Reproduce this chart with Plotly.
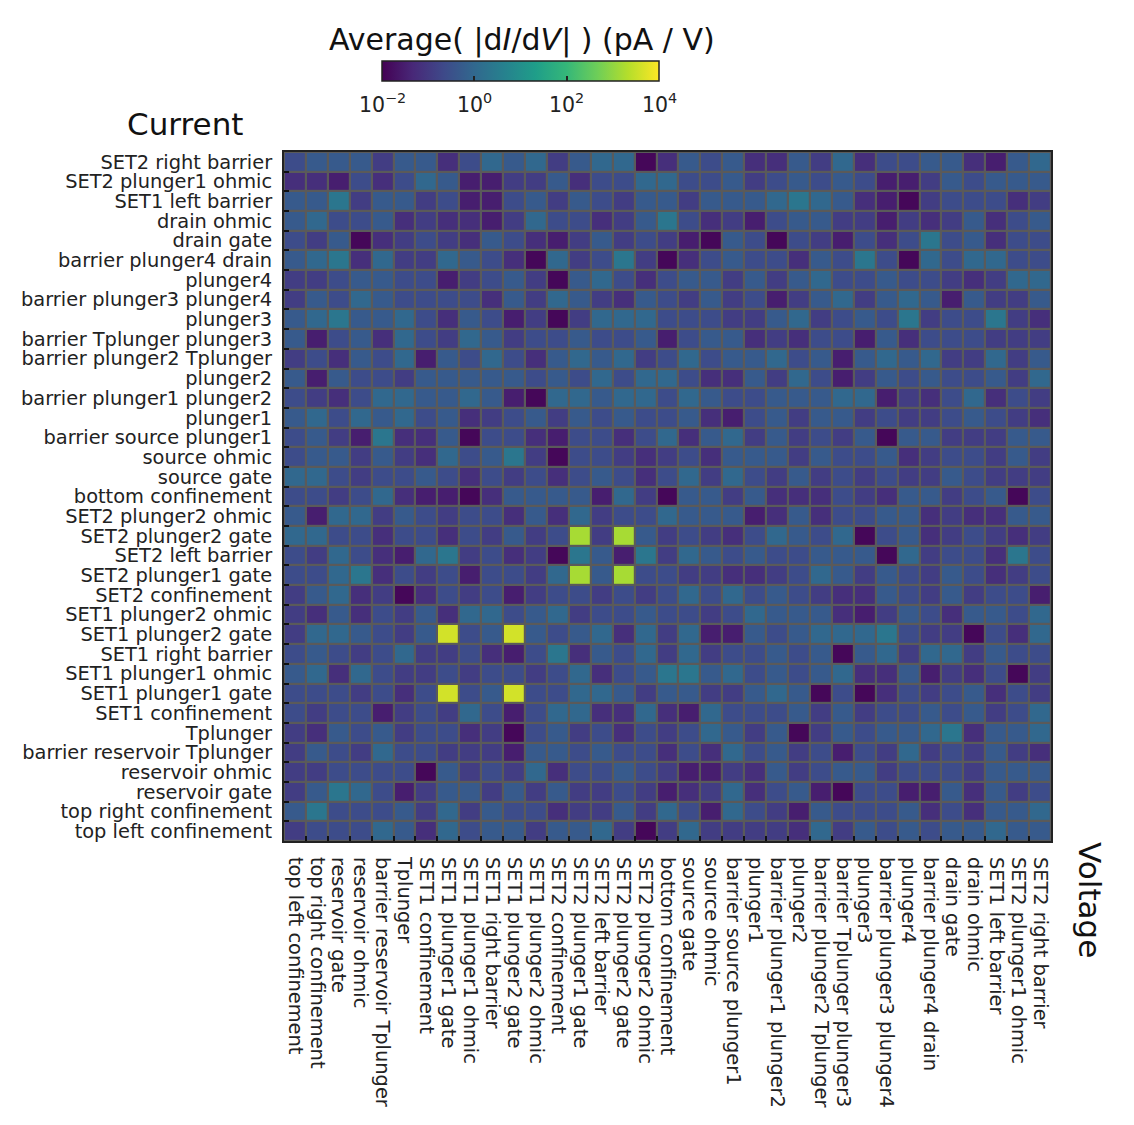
import plotly.graph_objects as go

voltage_gates = ["top left confinement", "top right confinement", "reservoir gate", "reservoir ohmic",
    "barrier reservoir Tplunger", "Tplunger", "SET1 confinement", "SET1 plunger1 gate", "SET1 plunger1 ohmic",
    "SET1 right barrier", "SET1 plunger2 gate", "SET1 plunger2 ohmic", "SET2 confinement", "SET2 plunger1 gate",
    "SET2 left barrier", "SET2 plunger2 gate", "SET2 plunger2 ohmic", "bottom confinement", "source gate",
    "source ohmic", "barrier source plunger1", "plunger1", "barrier plunger1 plunger2", "plunger2",
    "barrier plunger2 Tplunger", "barrier Tplunger plunger3", "plunger3", "barrier plunger3 plunger4", "plunger4",
    "barrier plunger4 drain", "drain gate", "drain ohmic", "SET1 left barrier", "SET2 plunger1 ohmic",
    "SET2 right barrier"]
current_gates = voltage_gates[::-1]

colorbar_ticks = [-2, 0, 2, 4]
colorbar_labels = ["10<sup>−2</sup>", "10<sup>0</sup>", "10<sup>2</sup>", "10<sup>4</sup>"]

# log10 of the average |dI/dV| in pA/V; rows run top to bottom of the picture
log10_didv = [
[-.6,-.3,-.3,-.3,-.9,-.3,-.3,-1.2,-.6,0,-.3,0,-.9,-.3,0,0,-1.9,-1.2,-.3,-.6,-.3,-1.2,-1.2,-.3,-.9,0,-1.2,-.6,-.6,-.3,-.3,-1.2,-1.5,-.3,0],
[-1.2,-1.2,-1.5,-.6,-1.2,-.6,0,-.3,-1.5,-1.5,-.9,-.9,-.3,-1.2,-.6,-.6,0,0,-.6,-.6,-.3,-.9,-.6,-.3,-.6,-.3,-.6,-1.5,-1.5,-.9,-.3,-.6,-.3,-.3,-.3],
[-.3,-.3,.35,-.9,-.3,-.3,-.9,-.6,-1.5,-1.5,-.6,-.3,-.9,-.3,-.6,-.9,-.3,-.3,-.9,-.3,-.3,-.3,0,.35,0,-.3,-1.2,-1.5,-1.9,-.9,-.6,-.6,-.6,-1.2,-.9],
[-.3,0,-.6,-.6,-.3,-1.2,-.9,-1.2,-1.2,-1.5,-.9,0,-.6,-.6,-1.2,-.9,-.3,.35,-.6,-1.2,-.9,-1.5,-.6,-.3,-.3,-.9,-.9,-1.5,-.9,-1.2,-.9,-.3,-1.2,-.6,-.3],
[-.6,-.9,-.3,-1.9,-1.2,-.9,-.6,-.9,-1.2,-.3,-.6,-1.2,-1.5,-.9,-.3,-.9,-.6,-.9,-1.5,-1.9,-.3,-.6,-1.9,-.6,-.9,-1.5,-.6,-1.2,-.6,.35,-.6,-.3,-1.2,-.6,-.6],
[-.3,0,.35,-1.2,0,-.9,-.9,0,-.3,-.6,-1.2,-1.9,0,-.9,-.6,.35,-.9,-1.9,-1.2,-.6,-.3,-.6,-.6,-1.2,-.3,-.6,.35,-.6,-1.9,0,-.6,0,0,-.6,-.6],
[-.9,-.9,-.6,-.3,-.3,-.6,-.6,-1.5,-.9,-.6,-.3,-.9,-1.9,-.3,0,-.6,-1.2,-.6,-.3,-.3,-.9,-.3,-.9,-.3,0,-.6,-.6,-.3,-.6,-.6,-.9,-1.2,-.9,0,0],
[-.9,-.3,-.6,0,-.3,-.6,-.6,-.6,-.6,-1.2,-.3,-.9,0,-.3,-.9,-1.2,-.3,-.6,-.9,-.3,-.9,-.6,-1.5,-.9,-.3,0,-.9,-.3,0,-.3,-1.5,-.3,-.9,-.9,-.3],
[-.3,0,.35,-.3,-.3,0,-.6,-1.2,-.3,-.6,-1.5,-.9,-1.9,-.9,0,0,0,-.6,-.6,-.6,-.9,-.9,-.3,0,-.9,-.6,-.3,-.6,.35,-.9,-.6,-.6,.35,-.9,-1.2],
[-.3,-1.5,-.6,-.3,-1.2,0,-.6,-.9,0,-.3,-.9,-.6,-.6,-.3,-.6,-.6,-.3,-1.5,-.6,-.3,-.3,-1.2,-.9,-1.2,-.6,-.6,-1.5,-.3,-1.2,-.6,-.6,-.6,-.9,-.9,-.9],
[-.9,-.6,-1.2,-.3,-.6,0,-1.5,-.3,-.6,0,-.6,-1.2,-.3,0,-.3,0,-.9,-.6,0,-.6,-.3,-.3,0,-.6,-.3,-1.5,-.3,0,-.3,0,-.9,-.9,0,-.9,-.3],
[-.3,-1.5,-.3,-.6,-.6,-.9,-.3,-.3,-.3,-.3,-.3,-.6,-.3,-.6,0,-.6,0,0,-.6,-1.2,-1.2,-.3,-.9,0,-.6,-1.5,-.9,-.3,-.6,-.3,-.6,-.6,-.3,-.9,0],
[-.6,-.9,-1.2,-.6,0,0,-.3,-.3,0,-.3,-1.5,-1.9,0,0,-.3,0,0,-.6,0,-.3,-.6,-.6,-.3,-.3,-.3,0,0,-1.5,-.9,-1.2,-.6,0,-1.2,-.6,-.9],
[-.3,0,-.6,0,-.3,0,-.6,-.3,-1.2,-.9,-.6,-.3,-.9,-.3,-.6,-.3,-.6,-.6,-.3,-1.2,-1.5,-.6,-.3,-.9,-.3,-.3,-.9,-.6,-.9,-.9,-.6,-.3,-.6,-.9,-1.2],
[-.6,-.3,-.9,-1.5,.35,-1.2,-1.2,-.3,-1.9,-.6,-.6,-1.2,-1.5,-.6,-.6,-1.2,-.6,0,-1.2,-.3,0,-.9,-.3,-.9,-.6,-.9,-.3,-1.9,-.3,-.3,-.9,-.9,-.9,-.3,-.3],
[-.6,-.3,-.3,-.9,-.3,-.9,-1.2,0,-.6,-.3,.35,-.9,-1.9,-.6,-.6,-.9,-1.2,-.9,-.6,-1.2,-.3,-.3,-.3,-.9,-.3,-.6,-.6,-.3,-1.2,-.9,-.6,-.6,-.9,-.3,-.9],
[0,0,-.6,-.9,-.6,-.6,-.3,-.6,-1.2,-.6,-.9,-.6,-1.2,-.6,-.3,-.6,-1.2,-.6,0,-.9,0,-.6,-.9,-.3,-.9,-.6,-.9,-.6,-.9,-.9,-.3,-.6,-.9,-.9,-.9],
[-.6,-.6,-.9,-.6,0,-1.2,-1.5,-1.5,-1.9,-1.2,-.3,-.3,-.3,-.3,-1.5,0,-.9,-1.9,-.3,-.3,-.9,-.3,-1.2,-1.2,-1.2,-.6,-.9,-1.2,-.3,-.3,-.9,-.6,-.3,-1.9,-.6],
[-.3,-1.5,0,0,-.9,-.3,-.6,-.9,-.6,-.6,-1.2,-.3,-1.2,0,-.9,-.6,-.6,0,-.3,-.3,-.3,-1.5,-1.2,-.3,-1.2,-.6,-.6,-.3,-.3,-1.2,-.9,-1.2,-1.2,-.3,-.3],
[0,0,-.6,-.6,-1.2,-.6,-.6,-1.2,-.6,-.9,-.3,-.9,-.6,3.2,-.9,3.2,-.3,-.9,-.6,-.9,-1.2,-.6,0,-.3,-.6,0,-1.9,-.6,-.3,-1.2,-.9,-.6,-.9,-1.2,-.9],
[-.6,-.9,0,-.6,-1.2,-1.5,0,.35,-.9,-.6,-1.2,-.9,-1.9,.35,-.3,-1.5,.35,-.9,0,-.3,-.6,-.3,-.6,-.6,-.3,-.3,-.3,-1.9,0,-.9,-.6,-.6,-1.2,.35,-.6],
[-.6,-.6,0,.35,-1.2,-.6,-.9,-.6,-1.5,-.6,-.6,-.9,0,3.2,-.3,3.2,-.6,-.6,-.9,-.9,-1.2,-1.2,-.9,-.6,0,-.3,-.9,-.3,-.6,-.9,-.3,-.6,-1.2,-.9,-.6],
[-.9,-.3,0,-1.2,-.9,-1.9,-1.2,-.6,-.9,-.6,-1.5,-.9,-.6,-.6,-.9,-.6,-.9,-.6,0,-.6,0,-.6,-.3,-.6,-.9,-1.2,-1.2,-.3,-.6,-.9,-.3,-.9,-.6,-.6,-1.5],
[-.9,-1.2,-.3,-1.2,-.6,-.9,-.3,-1.2,0,0,-.6,-.3,0,-.9,-.6,-.6,-.3,-.6,-.6,-.9,-.6,0,-.3,-.3,-.3,-1.2,-1.5,-.9,-.3,-.6,-1.2,-.3,-.3,-.6,0],
[-.9,0,0,-.3,-.6,-.9,-.3,3.6,-.6,-.3,3.6,-.3,-.6,-.3,0,-1.2,0,-.9,0,-1.5,-1.5,-.3,-.6,-.3,0,0,0,.35,-.6,-.9,-.9,-1.9,-.6,-1.2,0],
[-.6,-.3,-.6,-.9,-.6,0,-.9,-.9,-.6,-1.2,-1.5,-.6,.35,-1.2,-.3,-.6,0,-.9,0,-.9,-.6,-.6,-.3,-.6,-.3,-1.9,-.3,0,-.9,0,0,-.9,-.3,-.6,-.6],
[-.3,0,-1.2,0,-.6,-.9,-.9,-.6,-.9,-.6,-.6,-.9,-.6,0,-1.2,-.6,-.3,.35,.35,-.3,0,-.6,-.3,-.6,-.3,0,-1.2,-1.2,-.3,-1.5,-.9,-1.2,-.6,-1.9,-.9],
[-.6,-.6,-.6,-.9,-.6,-1.2,-.6,3.6,-.6,-.3,3.6,-.6,-.6,0,0,-.3,-.9,-.3,-.3,-.9,-.9,-.3,0,-.3,-1.9,-.6,-1.9,-1.2,-.6,-.9,-.6,-.3,-1.2,-.6,-.9],
[-.6,-.9,-.6,-.6,-1.5,-.9,-.6,-.9,0,-.6,-1.5,-.6,0,0,-1.2,-1.2,0,-1.2,-1.5,0,-.6,-.6,-.6,-.3,-.9,-.3,-.9,-.6,-.6,-.3,-.6,-.3,-.9,-.6,0],
[-.9,-1.2,-.3,-.6,-.3,-.9,-.6,-.6,-1.2,-.9,-1.9,-.6,-.3,-.9,-.6,-1.2,-.6,-.9,-.6,0,-.3,-.9,-.3,-1.9,-.9,-.3,-.6,-.3,-.3,0,.35,-1.2,-.3,-.3,0],
[-.9,-.3,-.6,-.9,0,-.6,-.6,-.9,-.9,-.9,-1.5,-.3,-.3,-.6,-.3,-.6,-.6,-1.2,-.6,-1.2,0,-.6,-.3,-.9,-.6,-1.5,-.6,-.9,0,-.9,-.6,-.9,-.3,-.9,-1.2],
[-.9,-.9,-.6,-.6,-.6,-.6,-1.9,-.3,-.9,-.6,-.9,0,-1.2,-.6,-.6,-.3,-.6,-.9,-1.5,-1.5,-.9,-1.2,-.3,-.9,-.6,-.3,-.3,-.9,-.6,-.6,-.6,-.9,-.3,-.3,-.3],
[-.9,-.3,.35,0,-.6,-1.5,-.9,-.3,-.3,-.9,-.3,-.9,-.3,-.9,-.9,-.6,-.9,-1.5,-1.2,-.9,0,-1.2,-.6,-.3,-1.5,-1.9,-.6,-.6,-1.5,-1.5,-.3,-1.2,-.3,-.9,-.6],
[-.3,.35,-.6,-.6,-.6,-.3,-.9,0,-.9,-.3,-.6,-.6,-1.2,-.9,-.9,-.3,-.9,0,-.6,-1.5,0,-.6,-.9,-1.5,-.3,-.6,-.6,-.6,-.3,-1.2,-.6,-1.2,-.3,-.3,0],
[-.9,-.6,-.6,-.6,0,-.3,-1.2,0,-.6,-.3,-.3,-.9,-.3,-.3,0,-.9,-1.9,-.9,0,-.9,-.9,-.9,-.9,-1.2,0,-.9,-.3,-.6,-.3,-.6,-.3,-.3,0,-.3,-.3],
]

fig = go.Figure(go.Heatmap(
    z=log10_didv, x=voltage_gates, y=current_gates,
    zmin=-2, zmax=4, colorscale="Viridis", xgap=2.2, ygap=2.2,
    colorbar=dict(
        orientation="h", xref="container", yref="container",
        x=520.5 / 1134, xanchor="center", y=1 - 61 / 1125, yanchor="top",
        lenmode="pixels", len=277, thickness=20, xpad=0, ypad=0,
        outlinecolor="#222222", outlinewidth=1.5,
        tickmode="array", tickvals=colorbar_ticks, ticktext=colorbar_labels, showticklabels=False,
        ticks="inside", ticklen=5, tickwidth=1.5, tickcolor="#222222",
    ),
))

axis_style = dict(
    type="category", showgrid=False, zeroline=False, showline=True, mirror=True,
    linecolor="#222222", linewidth=2, ticks="inside", tickson="boundaries",
    ticklen=5, tickwidth=1.5, tickcolor="#111111", tickfont=dict(size=19.4, color="#222222"),
    automargin=False, tickmode="linear", tick0=0, dtick=1,
)
fig.update_xaxes(axis_style, domain=[284 / 1134, 1051 / 1134], tickangle=90, ticklabelstandoff=10)
fig.update_yaxes(axis_style, domain=[1 - 841 / 1125, 1 - 152 / 1125], autorange="reversed", ticklabelstandoff=6)

title_font = dict(family="DejaVu Sans", size=30, color="#111111")
label_font = dict(family="DejaVu Sans", size=31, color="#111111")
tick_font = dict(family="DejaVu Sans", size=20.5, color="#222222")
annotations = [
    dict(text="Average( |d<i>I</i>/d<i>V</i>| ) (pA / V)", x=522 / 1134, y=1 - 40 / 1125,
         xanchor="center", yanchor="middle", font=title_font),
    dict(text="Current", x=185 / 1134, y=1 - 124 / 1125, xanchor="center", yanchor="middle", font=label_font),
    dict(text="Voltage", x=1090 / 1134, y=1 - 900 / 1125, textangle=90,
         xanchor="center", yanchor="middle", font=label_font),
]
for value, label in zip(colorbar_ticks, colorbar_labels):
    annotations.append(dict(text=label, x=(382 + (value + 2) / 6 * 277) / 1134, y=1 - 103 / 1125,
                            xanchor="center", yanchor="middle", font=tick_font))
for a in annotations:
    a.update(xref="paper", yref="paper", showarrow=False)

fig.update_layout(
    width=1134, height=1125, margin=dict(l=0, r=0, t=0, b=0, autoexpand=False),
    paper_bgcolor="white", plot_bgcolor="#5a5a5a",
    font=dict(family="DejaVu Sans", color="#222222"),
    annotations=annotations,
)
fig.write_html("out.html", config=dict(displayModeBar=False), post_script="document.body.style.margin='0';")
